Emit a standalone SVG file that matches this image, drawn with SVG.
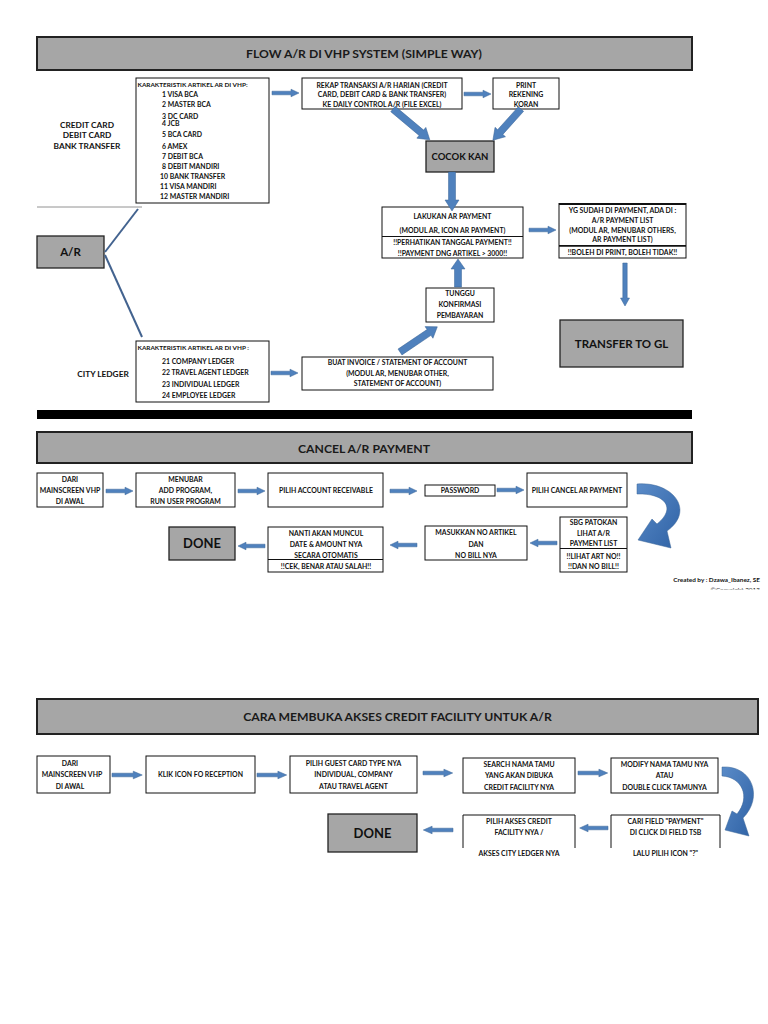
<svg xmlns="http://www.w3.org/2000/svg" xmlns:xlink="http://www.w3.org/1999/xlink" width="768" height="1024" viewBox="0 0 768 1024">
<style>
.t{font-family:Lato,"Open Sans","Liberation Sans",sans-serif;font-weight:bold;font-size:6.9px;fill:#111;text-anchor:middle}
.tl{text-anchor:start}
.m{font-size:8.3px}
.h{font-size:12.2px;fill:#1a1a1a}
.g{font-size:9.5px}
.big{font-size:11.5px}
.done{font-size:13px}
.box{fill:#fff;stroke:#111;stroke-width:1}
.gbox{fill:#a6a6a6;stroke:#222;stroke-width:1.3}
.hdr{fill:#a6a6a6;stroke:#222;stroke-width:2}
.arr{fill:#4f81bd;stroke:#3a6496;stroke-width:0.5}
.ln{stroke:#43638f;stroke-width:2;fill:none}
</style>
<defs>
<path id="ar" d="M0,-1.8 H19 V-3.8 L27,0 L19,3.8 V1.8 H0 Z"/>
<linearGradient id="cg" x1="0" y1="0" x2="1" y2="1">
<stop offset="0" stop-color="#5a8bc8"/>
<stop offset="1" stop-color="#2f62a5"/>
</linearGradient>
<clipPath id="cut"><rect x="0" y="0" width="768" height="589.5"/></clipPath>
</defs>
<rect width="768" height="1024" fill="#fff"/>

<!-- Section 1 -->
<g id="header1"><rect class="hdr" x="37" y="37" width="655" height="33"/><text class="t h" x="364" y="57.5">FLOW A/R DI VHP SYSTEM (SIMPLE WAY)</text></g>

<g id="cc-label"><text class="t m" x="87" y="127.5">CREDIT CARD</text><text class="t m" x="87" y="138">DEBIT CARD</text><text class="t m" x="87" y="148.5">BANK TRANSFER</text></g>

<g id="k1"><rect class="box" x="136" y="78" width="133" height="125"/>
<text class="t tl" x="137.5" y="86.5" style="font-size:6.4px">KARAKTERISTIK ARTIKEL AR DI VHP:</text>
<text class="t tl" x="162" y="97.3">1 VISA BCA</text>
<text class="t tl" x="162" y="107.3">2 MASTER BCA</text>
<text class="t tl" x="162" y="119">3 DC CARD</text>
<text class="t tl" x="162" y="126.3">4 JCB</text>
<text class="t tl" x="162" y="137.3">5 BCA CARD</text>
<text class="t tl" x="162" y="149">6 AMEX</text>
<text class="t tl" x="162" y="159.3">7 DEBIT BCA</text>
<text class="t tl" x="162" y="168.8">8 DEBIT MANDIRI</text>
<text class="t tl" x="160" y="178.8">10 BANK TRANSFER</text>
<text class="t tl" x="160" y="189.3">11 VISA MANDIRI</text>
<text class="t tl" x="160" y="199.3">12 MASTER MANDIRI</text></g>

<g id="rekap"><rect class="box" x="302" y="78" width="160" height="31"/>
<text class="t" x="382" y="87.5">REKAP TRANSAKSI A/R HARIAN  (CREDIT</text>
<text class="t" x="382" y="96.8">CARD, DEBIT CARD &amp; BANK TRANSFER)</text>
<text class="t" x="382" y="106.5">KE DAILY CONTROL A/R (FILE EXCEL)</text></g>

<g id="print"><rect class="box" x="493" y="78" width="66" height="31"/>
<text class="t" x="526" y="87.5">PRINT</text><text class="t" x="526" y="96.8">REKENING</text><text class="t" x="526" y="106.5">KORAN</text></g>

<g id="cocok"><rect class="gbox" x="426" y="141" width="68" height="31"/><text class="t g" x="460" y="160.3">COCOK KAN</text></g>

<g id="lakukan"><rect class="box" x="382" y="207" width="141" height="51"/><line x1="382" y1="236.5" x2="523" y2="236.5" stroke="#111" stroke-width="1"/>
<text class="t" x="452.5" y="219.3">LAKUKAN AR PAYMENT</text>
<text class="t" x="452.5" y="233.3">(MODUL AR, ICON AR PAYMENT)</text>
<text class="t" x="452.5" y="244.5">!!PERHATIKAN TANGGAL PAYMENT!!</text>
<text class="t" x="452.5" y="255.5">!!PAYMENT DNG ARTIKEL &gt; 3000!!</text></g>

<g id="yg"><rect class="box" x="559" y="203.5" width="127" height="54.5"/><line x1="559" y1="204" x2="686" y2="204" stroke="#111" stroke-width="1.8"/><line x1="559" y1="245.8" x2="686" y2="245.8" stroke="#111" stroke-width="1.8"/>
<text class="t" x="622.5" y="212.5">YG SUDAH DI PAYMENT, ADA DI :</text>
<text class="t" x="622.5" y="222.5">A/R PAYMENT LIST</text>
<text class="t" x="622.5" y="232.5">(MODUL AR, MENUBAR OTHERS,</text>
<text class="t" x="622.5" y="241.7">AR PAYMENT LIST)</text>
<text class="t" x="622.5" y="255.2">!!BOLEH DI PRINT, BOLEH TIDAK!!</text></g>

<g id="transfer"><rect class="gbox" x="560" y="320" width="123" height="47"/><text class="t big" x="621.5" y="347.5">TRANSFER TO GL</text></g>

<g id="tunggu"><rect class="box" x="426" y="288" width="68" height="34"/>
<text class="t" x="460" y="295.7">TUNGGU</text><text class="t" x="460" y="307.2">KONFIRMASI</text><text class="t" x="460" y="318.2">PEMBAYARAN</text></g>

<g id="buat"><rect class="box" x="302" y="357" width="191" height="33"/>
<text class="t" x="397.5" y="364.5">BUAT INVOICE / STATEMENT OF ACCOUNT</text>
<text class="t" x="397.5" y="375.7">(MODUL AR, MENUBAR OTHER,</text>
<text class="t" x="397.5" y="385.7">STATEMENT OF ACCOUNT)</text></g>

<g id="k2"><rect class="box" x="136" y="341" width="133" height="61"/>
<text class="t tl" x="137.5" y="350.3" style="font-size:6.4px">KARAKTERISTIK ARTIKEL AR DI VHP :</text>
<text class="t tl" x="162" y="363.5">21 COMPANY LEDGER</text>
<text class="t tl" x="162" y="375.2">22 TRAVEL AGENT LEDGER</text>
<text class="t tl" x="162" y="386.5">23 INDIVIDUAL LEDGER</text>
<text class="t tl" x="162" y="397.5">24 EMPLOYEE LEDGER</text></g>

<g id="city-label"><text class="t m" x="103" y="377.3">CITY LEDGER</text></g>

<g id="ar"><rect class="gbox" x="37" y="236" width="67" height="32"/><text class="t big" x="70.5" y="256.3">A/R</text></g>

<!-- Section 2 -->
<g id="bar"><rect x="37" y="410" width="655" height="9" fill="#000"/></g>
<g id="header2"><rect class="hdr" x="37" y="432" width="655" height="31"/><text class="t h" x="364" y="452.5">CANCEL A/R PAYMENT</text></g>

<g id="c-dari"><rect class="box" x="37" y="473" width="66" height="34"/>
<text class="t" x="70" y="481.5">DARI</text><text class="t" x="70" y="492.5">MAINSCREEN VHP</text><text class="t" x="70" y="503.5">DI AWAL</text></g>
<g id="c-menubar"><rect class="box" x="136" y="473" width="99" height="34"/>
<text class="t" x="185.5" y="481.5">MENUBAR</text><text class="t" x="185.5" y="492.5">ADD PROGRAM,</text><text class="t" x="185.5" y="503.5">RUN USER PROGRAM</text></g>
<g id="c-pilihacc"><rect class="box" x="268" y="473" width="115" height="34"/><text class="t" x="326" y="492.5">PILIH ACCOUNT RECEIVABLE</text></g>
<g id="c-password"><rect class="box" x="425" y="485" width="70" height="11"/><text class="t" x="460" y="493.2">PASSWORD</text></g>
<g id="c-pilihcancel"><rect class="box" x="527" y="473" width="100" height="34"/><text class="t" x="577" y="492.5">PILIH CANCEL AR PAYMENT</text></g>

<g id="c-sbg"><rect class="box" x="560" y="517" width="67" height="55"/><line x1="560" y1="548.5" x2="627" y2="548.5" stroke="#111"/>
<text class="t" x="593.5" y="524.5">SBG PATOKAN</text><text class="t" x="593.5" y="535.5">LIHAT A/R</text><text class="t" x="593.5" y="545.7">PAYMENT LIST</text>
<text class="t" x="593.5" y="558.5">!!LIHAT ART NO!!</text><text class="t" x="593.5" y="568.5">!!DAN NO BILL!!</text></g>
<g id="c-masukkan"><rect class="box" x="425" y="526" width="102" height="34"/>
<text class="t" x="476" y="534.5">MASUKKAN NO ARTIKEL</text><text class="t" x="476" y="546.5">DAN</text><text class="t" x="476" y="557.7">NO BILL NYA</text></g>
<g id="c-nanti"><rect class="box" x="268" y="527" width="115" height="45"/><line x1="268" y1="559.5" x2="383" y2="559.5" stroke="#111"/>
<text class="t" x="326" y="535.5">NANTI AKAN MUNCUL</text><text class="t" x="326" y="546.5">DATE &amp; AMOUNT NYA</text><text class="t" x="326" y="558.2">SECARA OTOMATIS</text><text class="t" x="326" y="568.7">!!CEK, BENAR ATAU SALAH!!</text></g>
<g id="c-done"><rect class="gbox" x="169" y="527" width="66" height="33"/><text class="t done" x="202" y="548.2">DONE</text></g>

<g id="credit"><text class="t" x="760" y="582" style="text-anchor:end;font-size:6.4px">Created by : Dzawa_Ibanez, SE</text>
<text class="t" x="760" y="592" clip-path="url(#cut)" style="text-anchor:end;font-size:6.4px;font-weight:normal">©Copyright 2013</text></g>

<!-- Section 3 -->
<g id="header3"><rect class="hdr" x="37" y="699" width="721" height="35"/><text class="t h" x="397.5" y="721.3">CARA MEMBUKA AKSES CREDIT FACILITY UNTUK A/R</text></g>

<g id="d-dari"><rect class="box" x="37" y="756" width="73" height="37"/>
<text class="t" x="70" y="765.5">DARI</text><text class="t" x="72" y="777.2">MAINSCREEN VHP</text><text class="t" x="70" y="789.2">DI AWAL</text></g>
<g id="d-klik"><rect class="box" x="146" y="756" width="109" height="37"/><text class="t" x="200.5" y="777.2">KLIK ICON FO RECEPTION</text></g>
<g id="d-guest"><rect class="box" x="290" y="756" width="127" height="37"/>
<text class="t" x="353.5" y="765.7">PILIH GUEST CARD TYPE NYA</text><text class="t" x="353.5" y="777.2">INDIVIDUAL, COMPANY</text><text class="t" x="353.5" y="789.2">ATAU TRAVEL AGENT</text></g>
<g id="d-search"><rect class="box" x="463" y="758" width="112" height="35"/>
<text class="t" x="519" y="766.5">SEARCH NAMA TAMU</text><text class="t" x="519" y="778.2">YANG AKAN DIBUKA</text><text class="t" x="519" y="789.7">CREDIT FACILITY NYA</text></g>
<g id="d-modify"><rect class="box" x="611" y="758" width="107" height="35"/>
<text class="t" x="664.5" y="766.5">MODIFY NAMA TAMU NYA</text><text class="t" x="664.5" y="778.2">ATAU</text><text class="t" x="664.5" y="789.7">DOUBLE CLICK TAMUNYA</text></g>

<g id="d-cari"><path d="M611,848 V815 H720 V848" fill="#fff" stroke="#111"/>
<text class="t" x="665.5" y="823.5">CARI FIELD "PAYMENT"</text><text class="t" x="665.5" y="834.5">DI CLICK DI FIELD TSB</text><text class="t" x="665.5" y="855.5">LALU PILIH ICON "?"</text></g>
<g id="d-pilihakses"><path d="M463,848 V815 H575 V848" fill="#fff" stroke="#111"/>
<text class="t" x="519" y="823.5">PILIH AKSES CREDIT</text><text class="t" x="519" y="834.5">FACILITY NYA /</text><text class="t" x="519" y="855.5">AKSES CITY LEDGER NYA</text></g>
<g id="d-done"><rect class="gbox" x="328" y="814" width="89" height="38"/><text class="t done" x="372.5" y="837.7">DONE</text></g>

<!-- Connectors -->
<g id="connectors">
<line x1="37" y1="207" x2="142" y2="207" stroke="#777" stroke-width="0.8"/>
<line class="ln" x1="105" y1="252" x2="138" y2="209"/>
<line class="ln" x1="105" y1="255" x2="142" y2="337"/>

<use href="#ar" class="arr" transform="translate(272,93)"/>
<use href="#ar" class="arr" transform="translate(464,94)"/>
<use href="#ar" class="arr" transform="translate(529,230)"/>
<use href="#ar" class="arr" transform="translate(271,373)"/>

<path class="arr" d="M0,-3.5 H37 V-7 L48,0 L37,7 V3.5 H0 Z" transform="translate(393,109) rotate(40)"/>
<path class="arr" d="M0,-3.5 H31 V-7 L42,0 L31,7 V3.5 H0 Z" transform="translate(521,109) rotate(132)"/>
<path class="arr" d="M0,-3.5 H28 V-7 L39,0 L28,7 V3.5 H0 Z" transform="translate(452,172) rotate(90)"/>
<path class="arr" d="M0,-3.5 H18 V-7 L28,0 L18,7 V3.5 H0 Z" transform="translate(458,287) rotate(-90)"/>
<path class="arr" d="M0,-2.2 H35 V-4.5 L43,0 L35,4.5 V2.2 H0 Z" transform="translate(625,263) rotate(90)"/>
<path class="arr" d="M0,-3.5 H35 V-7 L45,0 L35,7 V3.5 H0 Z" transform="translate(400,352) rotate(-34)"/>

<use href="#ar" class="arr" transform="translate(106,491)"/>
<use href="#ar" class="arr" transform="translate(238,491)"/>
<use href="#ar" class="arr" transform="translate(390,491)"/>
<use href="#ar" class="arr" transform="translate(497,490)"/>
<use href="#ar" class="arr" transform="translate(557,543) scale(-1,1)"/>
<use href="#ar" class="arr" transform="translate(417,545) scale(-1,1)"/>
<use href="#ar" class="arr" transform="translate(265,546) scale(-1,1)"/>
<path d="M637,484 C672,481 696,510 667,531 L671,548 L638,540 L652,519 L657,524 C677,508 665,493 637,494 Z" fill="url(#cg)" stroke="#3a6496" stroke-width="0.5"/>

<use href="#ar" class="arr" transform="translate(112,775) scale(1.12,1)"/>
<use href="#ar" class="arr" transform="translate(257,775) scale(1.1,1)"/>
<use href="#ar" class="arr" transform="translate(423,773) scale(1.1,1)"/>
<use href="#ar" class="arr" transform="translate(578,773) scale(1.1,1)"/>
<use href="#ar" class="arr" transform="translate(608,828) scale(-1.05,1)"/>
<use href="#ar" class="arr" transform="translate(453,830) scale(-1.1,1)"/>
<path d="M722,767 C752,765 764,797 743,818 L749,836 L725,830 L732,811 L737,814 C751,797 742,777 722,776 Z" fill="url(#cg)" stroke="#3a6496" stroke-width="0.5"/>
</g>
</svg>
